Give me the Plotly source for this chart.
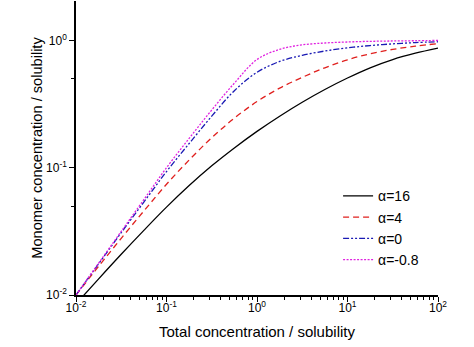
import plotly.graph_objects as go

# Total concentration / solubility (x grid)
x_total = [0.01, 0.0178, 0.0316, 0.0562, 0.1, 0.178, 0.316, 0.562, 1.0,
           1.78, 3.16, 5.62, 10.0, 17.8, 31.6, 56.2, 100.0]

# Monomer concentration / solubility for each alpha
y_a16 = [0.00851, 0.0134, 0.0209, 0.0322, 0.0490, 0.0724, 0.1035, 0.143, 0.193,
         0.254, 0.327, 0.412, 0.507, 0.610, 0.708, 0.794, 0.871]
y_a4 = [0.0100, 0.0168, 0.0279, 0.0457, 0.0741, 0.115, 0.172, 0.245, 0.331,
        0.422, 0.513, 0.610, 0.705, 0.785, 0.851, 0.902, 0.944]
y_a0 = [0.0100, 0.0176, 0.0309, 0.0537, 0.0933, 0.155, 0.254, 0.403, 0.562,
        0.684, 0.764, 0.826, 0.875, 0.912, 0.940, 0.962, 0.977]
y_am08 = [0.0100, 0.0178, 0.0316, 0.0562, 0.100, 0.170, 0.284, 0.462, 0.708,
          0.851, 0.923, 0.955, 0.973, 0.984, 0.991, 0.995, 1.000]

series_names = ["α=16", "α=4", "α=0", "α=-0.8"]
series_y = [y_a16, y_a4, y_a0, y_am08]
series_colors = ["#000000", "#e0201e", "#1a1ab4", "#e020e0"]
series_dash = ["solid", "6px,4px", "6px,2px,2px,2px,2px,2px", "2px,1.5px"]

x_tick_vals = [0.01, 0.1, 1, 10, 100]
x_tick_text = ["10<sup>-2</sup>", "10<sup>-1</sup>", "10<sup>0</sup>",
               "10<sup>1</sup>", "10<sup>2</sup>"]
y_tick_vals = [0.01, 0.1, 1]
y_tick_text = ["10<sup>-2</sup>", "10<sup>-1</sup>", "10<sup>0</sup>"]

fig = go.Figure()
for name, ys, col, dsh in zip(series_names, series_y, series_colors, series_dash):
    fig.add_trace(go.Scatter(
        x=x_total, y=ys, mode="lines", name=name,
        line=dict(color=col, width=1.3, dash=dsh, shape="spline", smoothing=1.0),
        cliponaxis=True,
    ))

font_family = "Liberation Sans, Arial, sans-serif"
fig.update_layout(
    width=474, height=347,
    margin=dict(l=76, r=36, t=1, b=52),
    paper_bgcolor="white", plot_bgcolor="white",
    font=dict(family=font_family, size=12, color="black"),
    showlegend=True,
    legend=dict(x=0.724, y=0.39, xanchor="left", yanchor="top",
                bgcolor="rgba(0,0,0,0)", font=dict(size=14), tracegroupgap=0,
                itemwidth=30),
)
fig.update_xaxes(
    type="log", range=[-2, 2],
    tickvals=x_tick_vals, ticktext=x_tick_text,
    ticks="outside", ticklen=5, tickwidth=1.2, tickcolor="black",
    ticklabelstandoff=-4,
    showline=True, linecolor="black", linewidth=1.5, mirror=False,
    showgrid=False, zeroline=False,
    tickfont=dict(size=12),
    minor=dict(ticks="outside", ticklen=3, tickwidth=1, tickcolor="black",
               dtick="D1", showgrid=False),
    title=dict(text="Total concentration / solubility", font=dict(size=15), standoff=12),
)
fig.update_yaxes(
    type="log", range=[-2, 0.31],
    tickvals=y_tick_vals, ticktext=y_tick_text,
    ticks="outside", ticklen=5, tickwidth=1.2, tickcolor="black",
    showline=True, linecolor="black", linewidth=1.5, mirror=False,
    showgrid=False, zeroline=False,
    tickfont=dict(size=12),
    minor=dict(ticks="outside", ticklen=3, tickwidth=1, tickcolor="black",
               tickvals=[0.05, 0.5], showgrid=False),
    title=dict(text="Monomer concentration / solubility", font=dict(size=14.6), standoff=0),
)

fig.write_html("out.html")
